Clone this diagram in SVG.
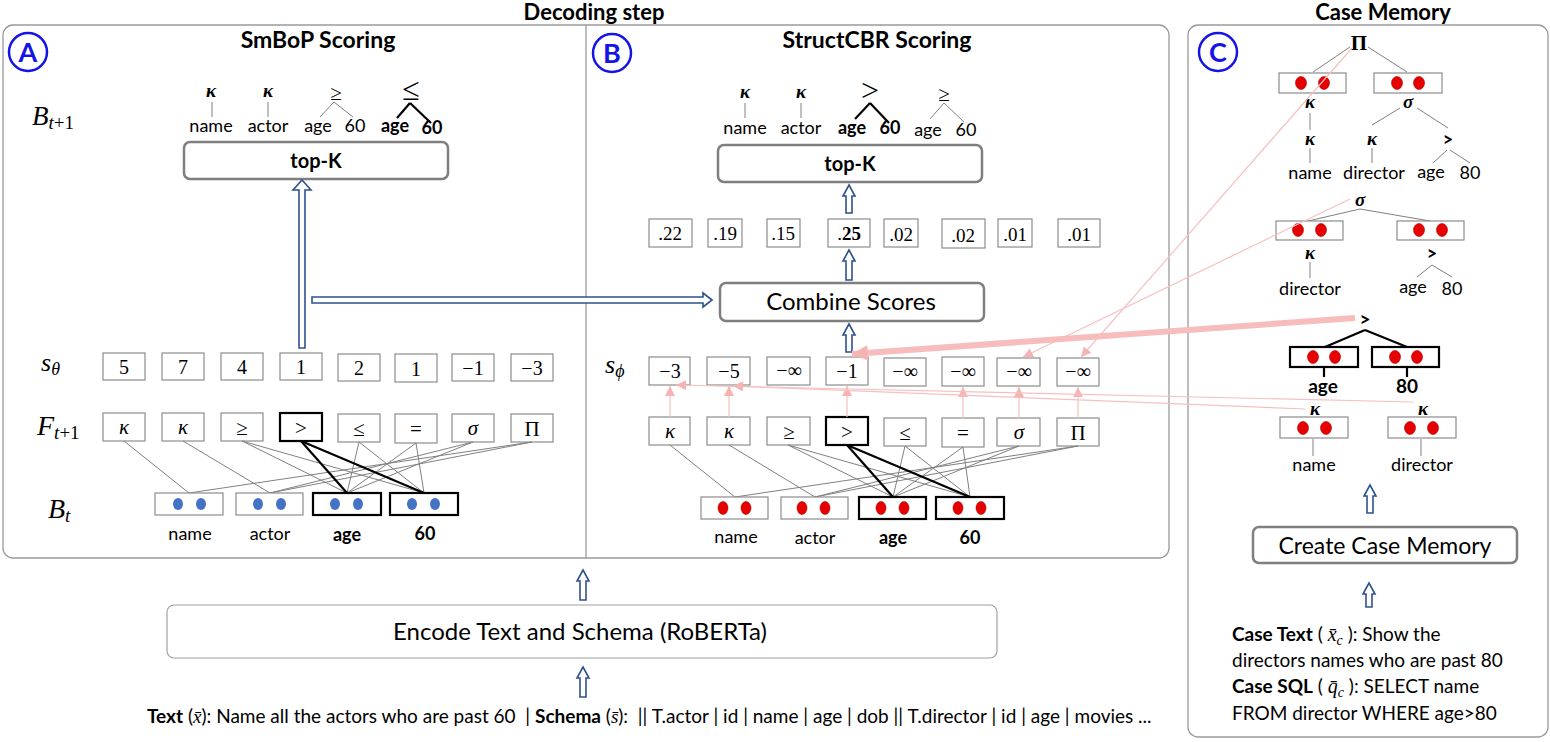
<svg xmlns="http://www.w3.org/2000/svg" width="1550" height="742" viewBox="0 0 1550 742">
<style>
.t{font-family:Lato,"Liberation Sans",sans-serif;fill:#000}
.b{font-weight:bold}
.m{font-family:"Liberation Serif","DejaVu Serif",serif;fill:#000}
.mi{font-family:"Liberation Serif","DejaVu Serif",serif;font-style:italic;fill:#000}
.mbi{font-family:"Liberation Serif","DejaVu Serif",serif;font-style:italic;font-weight:bold;fill:#000}
.panel{fill:none;stroke:#9a9a9a;stroke-width:1.3}
.gbox{fill:#fff;stroke:#8c8c8c;stroke-width:1.2}
.kbox{fill:#fff;stroke:#000;stroke-width:2.2}
.rbox{fill:#fff;stroke:#7f7f7f;stroke-width:2.5}
.ln{stroke:#808080;stroke-width:1;fill:none}
.tk{stroke:#000;stroke-width:2.2;fill:none}
.bd{fill:#4472c4}
.rd{fill:#e60000;stroke:#b00000;stroke-width:0.6}
.arr{fill:#fff;stroke:#2f528f;stroke-width:1.6;stroke-linejoin:miter}
.pk{stroke:#f6c0c0;stroke-width:1.2;fill:none}
.pkt{stroke:#f7bcbc;stroke-width:6;fill:none}
.circ{fill:#fff;stroke:#1414e6;stroke-width:2.5}
.cl{font-family:Lato,"Liberation Sans",sans-serif;font-weight:bold;fill:#1414e6;font-size:27px}
</style>
<defs>
<marker id="ph" markerUnits="userSpaceOnUse" markerWidth="12" markerHeight="12" refX="10" refY="5" orient="auto">
<path d="M0,0 L10,5 L0,10 Z" fill="#f5b3b3"/>
</marker>
<marker id="phb" markerUnits="userSpaceOnUse" markerWidth="20" markerHeight="20" refX="16" refY="8" orient="auto">
<path d="M0,0 L16,8 L0,16 Z" fill="#f5b3b3"/>
</marker>
</defs>
<rect width="1550" height="742" fill="#fff"/>

<!-- titles and panels -->
<g id="frame">
<text class="t b" x="594" y="20" font-size="22" text-anchor="middle">Decoding step</text>
<text class="t b" x="1383" y="20" font-size="22" text-anchor="middle">Case Memory</text>
<rect class="panel" x="3" y="25" width="1166" height="533" rx="10"/>
<line class="panel" x1="586" y1="25" x2="586" y2="558"/>
<rect class="panel" x="1188" y="25" width="360" height="712" rx="10"/>
</g>

<!-- Panel A -->
<g id="panelA">
<circle class="circ" cx="28" cy="52" r="19"/>
<text class="cl" x="28" y="62" text-anchor="middle">A</text>
<text class="t b" x="318" y="48" font-size="23" text-anchor="middle">SmBoP Scoring</text>
<text class="mi" x="32" y="125" font-size="27">B<tspan font-size="19" dy="4">t</tspan><tspan font-size="19" font-style="normal">+1</tspan></text>
</g>

<g id="A-Bt1">
<text class="mbi" x="211" y="97" font-size="19" text-anchor="middle">κ</text>
<text class="mbi" x="268" y="97" font-size="19" text-anchor="middle">κ</text>
<text class="m" x="336" y="100" font-size="21" text-anchor="middle">≥</text>
<text class="m" x="411" y="100" font-size="32" text-anchor="middle">≤</text>
<line class="ln" x1="212" y1="102" x2="212" y2="117"/>
<line class="ln" x1="268" y1="102" x2="268" y2="117"/>
<line class="ln" x1="334" y1="102" x2="320" y2="117"/>
<line class="ln" x1="334" y1="102" x2="353" y2="117"/>
<line class="tk" x1="410" y1="103" x2="397" y2="118"/>
<line class="tk" x1="410" y1="103" x2="431" y2="123"/>
<text class="t" x="211" y="132" font-size="18" text-anchor="middle">name</text>
<text class="t" x="268" y="132" font-size="18" text-anchor="middle">actor</text>
<text class="t" x="318" y="132" font-size="18" text-anchor="middle">age</text>
<text class="t" x="355" y="132" font-size="18" text-anchor="middle">60</text>
<text class="t b" x="395" y="132" font-size="18" text-anchor="middle">age</text>
<text class="t b" x="432" y="134" font-size="18" text-anchor="middle">60</text>
</g>

<g id="A-topk">
<rect class="rbox" x="184" y="142" width="264" height="37" rx="6"/>
<text class="t b" x="316" y="168" font-size="20" text-anchor="middle">top-K</text>
</g>

<g id="A-stheta">
<text class="mi" x="41" y="371" font-size="26">s<tspan font-size="18" dy="4">θ</tspan></text>
<rect class="gbox" x="103" y="353" width="42" height="27"/>
<rect class="gbox" x="162" y="353" width="42" height="27"/>
<rect class="gbox" x="221" y="353" width="42" height="27"/>
<rect class="gbox" x="280" y="353" width="42" height="27"/>
<rect class="gbox" x="338" y="354" width="42" height="27"/>
<rect class="gbox" x="395" y="354" width="42" height="28"/>
<rect class="gbox" x="452" y="354" width="42" height="27"/>
<rect class="gbox" x="511" y="354" width="42" height="27"/>
<g class="m" font-size="20" text-anchor="middle">
<text x="124" y="374">5</text><text x="183" y="374">7</text><text x="242" y="374">4</text><text x="301" y="374">1</text>
<text x="359" y="375">2</text><text x="416" y="376">1</text><text x="473" y="375">−1</text><text x="532" y="375">−3</text>
</g>
</g>

<g id="A-F">
<text class="mi" x="37" y="435" font-size="28">F<tspan font-size="19" dy="4">t</tspan><tspan font-size="19" font-style="normal">+1</tspan></text>
<rect class="gbox" x="103" y="413" width="42" height="28"/>
<rect class="gbox" x="162" y="413" width="42" height="28"/>
<rect class="gbox" x="221" y="413" width="42" height="28"/>
<rect class="kbox" x="280" y="413" width="42" height="28"/>
<rect class="gbox" x="338" y="414" width="42" height="28"/>
<rect class="gbox" x="395" y="414" width="42" height="29"/>
<rect class="gbox" x="452" y="414" width="42" height="28"/>
<rect class="gbox" x="511" y="414" width="42" height="28"/>
<g font-size="21" text-anchor="middle">
<text class="mi" x="124" y="434">κ</text><text class="mi" x="183" y="434">κ</text>
<text class="m" x="242" y="435">≥</text><text class="m" x="301" y="435">&gt;</text>
<text class="m" x="359" y="436">≤</text><text class="m" x="416" y="436">=</text>
<text class="mi" x="473" y="435">σ</text><text class="m" x="532" y="436">Π</text>
</g>
</g>

<g id="A-edges">
<line class="ln" x1="124" y1="441" x2="189" y2="493"/>
<line class="ln" x1="183" y1="441" x2="270" y2="493"/>
<line class="ln" x1="242" y1="441" x2="347" y2="493"/>
<line class="ln" x1="242" y1="441" x2="424" y2="493"/>
<line class="ln" x1="359" y1="442" x2="347" y2="493"/>
<line class="ln" x1="359" y1="442" x2="424" y2="493"/>
<line class="ln" x1="416" y1="443" x2="347" y2="493"/>
<line class="ln" x1="416" y1="443" x2="424" y2="493"/>
<line class="ln" x1="473" y1="442" x2="270" y2="493"/>
<line class="ln" x1="473" y1="442" x2="347" y2="493"/>
<line class="ln" x1="532" y1="442" x2="189" y2="493"/>
<line class="ln" x1="532" y1="442" x2="270" y2="493"/>
<line class="tk" x1="301" y1="441" x2="347" y2="493"/>
<line class="tk" x1="301" y1="441" x2="424" y2="493"/>
</g>

<g id="A-Bt">
<text class="mi" x="48" y="518" font-size="28">B<tspan font-size="19" dy="4">t</tspan></text>
<rect class="gbox" x="155" y="493" width="68" height="22"/>
<rect class="gbox" x="236" y="493" width="67" height="22"/>
<rect class="kbox" x="313" y="493" width="68" height="22"/>
<rect class="kbox" x="390" y="493" width="68" height="22"/>
<ellipse class="bd" cx="178" cy="504" rx="5" ry="6"/><ellipse class="bd" cx="201" cy="504" rx="5" ry="6"/>
<ellipse class="bd" cx="258" cy="504" rx="5" ry="6"/><ellipse class="bd" cx="281" cy="504" rx="5" ry="6"/>
<ellipse class="bd" cx="335" cy="504" rx="5" ry="6"/><ellipse class="bd" cx="358" cy="504" rx="5" ry="6"/>
<ellipse class="bd" cx="412" cy="504" rx="5" ry="6"/><ellipse class="bd" cx="435" cy="504" rx="5" ry="6"/>
<text class="t" x="190" y="540" font-size="18" text-anchor="middle">name</text>
<text class="t" x="270" y="540" font-size="18" text-anchor="middle">actor</text>
<text class="t b" x="347" y="541" font-size="18" text-anchor="middle">age</text>
<text class="t b" x="425" y="540" font-size="18" text-anchor="middle">60</text>
</g>

<!-- Panel B -->
<g id="panelB">
<circle class="circ" cx="612" cy="53" r="19"/>
<text class="cl" x="612" y="63" text-anchor="middle">B</text>
<text class="t b" x="877" y="48" font-size="23" text-anchor="middle">StructCBR Scoring</text>
</g>

<g id="B-Bt1">
<text class="mbi" x="745" y="98" font-size="19" text-anchor="middle">κ</text>
<text class="mbi" x="801" y="98" font-size="19" text-anchor="middle">κ</text>
<text class="m" x="870" y="101" font-size="32" text-anchor="middle">&gt;</text>
<text class="m" x="944" y="101" font-size="21" text-anchor="middle">≥</text>
<line class="ln" x1="745" y1="103" x2="745" y2="118"/>
<line class="ln" x1="801" y1="103" x2="801" y2="118"/>
<line class="tk" x1="870" y1="103" x2="855" y2="119"/>
<line class="tk" x1="870" y1="103" x2="889" y2="123"/>
<line class="ln" x1="944" y1="103" x2="930" y2="119"/>
<line class="ln" x1="944" y1="103" x2="964" y2="122"/>
<text class="t" x="745" y="134" font-size="18" text-anchor="middle">name</text>
<text class="t" x="801" y="134" font-size="18" text-anchor="middle">actor</text>
<text class="t b" x="852" y="134" font-size="18" text-anchor="middle">age</text>
<text class="t b" x="890" y="134" font-size="18" text-anchor="middle">60</text>
<text class="t" x="928" y="136" font-size="18" text-anchor="middle">age</text>
<text class="t" x="966" y="136" font-size="18" text-anchor="middle">60</text>
</g>

<g id="B-topk">
<rect class="rbox" x="718" y="145" width="264" height="37" rx="6"/>
<text class="t b" x="850" y="171" font-size="20" text-anchor="middle">top-K</text>
</g>

<g id="B-probs">
<rect class="gbox" x="649" y="219" width="43" height="28"/>
<rect class="gbox" x="708" y="219" width="34" height="28"/>
<rect class="gbox" x="767" y="219" width="33" height="28"/>
<rect class="gbox" x="828" y="219" width="42" height="28"/>
<rect class="gbox" x="884" y="219" width="34" height="28"/>
<rect class="gbox" x="942" y="219" width="43" height="29"/>
<rect class="gbox" x="998" y="219" width="34" height="28"/>
<rect class="gbox" x="1058" y="219" width="42" height="28"/>
<g class="m" font-size="19" text-anchor="middle">
<text x="670" y="240">.22</text><text x="725" y="240">.19</text><text x="783" y="240">.15</text>
<text x="849" y="240">.<tspan font-weight="bold">25</tspan></text>
<text x="901" y="241">.02</text><text x="963" y="242">.02</text><text x="1015" y="241">.01</text><text x="1079" y="241">.01</text>
</g>
</g>

<g id="B-combine">
<rect class="rbox" x="720" y="283" width="264" height="38" rx="6"/>
<text class="t" x="851" y="310" font-size="24" text-anchor="middle">Combine Scores</text>
</g>

<g id="B-sphi">
<text class="mi" x="605" y="373" font-size="26">s<tspan font-size="18" dy="4">ϕ</tspan></text>
<rect class="gbox" x="649" y="357" width="41" height="28"/>
<rect class="gbox" x="707" y="357" width="43" height="28"/>
<rect class="gbox" x="767" y="357" width="43" height="28"/>
<rect class="gbox" x="826" y="357" width="42" height="28"/>
<rect class="gbox" x="884" y="358" width="42" height="28"/>
<rect class="gbox" x="942" y="357" width="42" height="29"/>
<rect class="gbox" x="997" y="358" width="43" height="28"/>
<rect class="gbox" x="1057" y="358" width="42" height="28"/>
<g class="m" font-size="20" text-anchor="middle">
<text x="670" y="378">−3</text><text x="729" y="378">−5</text><text x="789" y="377">−∞</text><text x="847" y="378">−1</text>
<text x="905" y="378">−∞</text><text x="963" y="378">−∞</text><text x="1019" y="378">−∞</text><text x="1078" y="378">−∞</text>
</g>
</g>

<g id="B-F">
<rect class="gbox" x="649" y="417" width="41" height="28"/>
<rect class="gbox" x="707" y="417" width="43" height="28"/>
<rect class="gbox" x="767" y="417" width="43" height="28"/>
<rect class="kbox" x="826" y="417" width="42" height="28"/>
<rect class="gbox" x="884" y="418" width="42" height="28"/>
<rect class="gbox" x="942" y="418" width="42" height="29"/>
<rect class="gbox" x="997" y="418" width="43" height="28"/>
<rect class="gbox" x="1057" y="418" width="42" height="28"/>
<g font-size="21" text-anchor="middle">
<text class="mi" x="670" y="438">κ</text><text class="mi" x="729" y="438">κ</text>
<text class="m" x="789" y="439">≥</text><text class="m" x="847" y="439">&gt;</text>
<text class="m" x="905" y="440">≤</text><text class="m" x="963" y="440">=</text>
<text class="mi" x="1019" y="439">σ</text><text class="m" x="1078" y="440">Π</text>
</g>
</g>

<g id="B-edges">
<line class="ln" x1="670" y1="445" x2="735" y2="497"/>
<line class="ln" x1="729" y1="445" x2="815" y2="497"/>
<line class="ln" x1="788" y1="445" x2="893" y2="497"/>
<line class="ln" x1="788" y1="445" x2="970" y2="497"/>
<line class="ln" x1="905" y1="446" x2="893" y2="497"/>
<line class="ln" x1="905" y1="446" x2="970" y2="497"/>
<line class="ln" x1="963" y1="447" x2="893" y2="497"/>
<line class="ln" x1="963" y1="447" x2="970" y2="497"/>
<line class="ln" x1="1019" y1="446" x2="815" y2="497"/>
<line class="ln" x1="1019" y1="446" x2="893" y2="497"/>
<line class="ln" x1="1078" y1="446" x2="735" y2="497"/>
<line class="ln" x1="1078" y1="446" x2="815" y2="497"/>
<line class="tk" x1="847" y1="445" x2="893" y2="497"/>
<line class="tk" x1="847" y1="445" x2="970" y2="497"/>
</g>

<g id="B-Bt">
<rect class="gbox" x="701" y="497" width="67" height="22"/>
<rect class="gbox" x="781" y="497" width="67" height="22"/>
<rect class="kbox" x="859" y="497" width="67" height="22"/>
<rect class="kbox" x="936" y="497" width="68" height="22"/>
<ellipse class="rd" cx="723" cy="508" rx="5" ry="6.5"/><ellipse class="rd" cx="746" cy="508" rx="5" ry="6.5"/>
<ellipse class="rd" cx="802" cy="508" rx="5" ry="6.5"/><ellipse class="rd" cx="825" cy="508" rx="5" ry="6.5"/>
<ellipse class="rd" cx="881" cy="508" rx="5" ry="6.5"/><ellipse class="rd" cx="904" cy="508" rx="5" ry="6.5"/>
<ellipse class="rd" cx="958" cy="508" rx="5" ry="6.5"/><ellipse class="rd" cx="981" cy="508" rx="5" ry="6.5"/>
<text class="t" x="736" y="543" font-size="18" text-anchor="middle">name</text>
<text class="t" x="815" y="544" font-size="18" text-anchor="middle">actor</text>
<text class="t b" x="893" y="544" font-size="18" text-anchor="middle">age</text>
<text class="t b" x="970" y="544" font-size="18" text-anchor="middle">60</text>
</g>

<!-- Panel C -->
<g id="panelC">
<circle class="circ" cx="1218" cy="52" r="19"/>
<text class="cl" x="1218" y="62" text-anchor="middle">C</text>
</g>

<g id="C-tree1">
<text class="m b" x="1359" y="50" font-size="21" text-anchor="middle">Π</text>
<line class="ln" x1="1350" y1="47" x2="1313" y2="72"/>
<line class="ln" x1="1368" y1="47" x2="1407" y2="72"/>
<rect class="gbox" x="1279" y="73" width="67" height="20"/>
<rect class="gbox" x="1374" y="73" width="68" height="20"/>
<ellipse class="rd" cx="1301" cy="83" rx="5.5" ry="6.5"/><ellipse class="rd" cx="1324" cy="83" rx="5.5" ry="6.5"/>
<ellipse class="rd" cx="1397" cy="83" rx="5.5" ry="6.5"/><ellipse class="rd" cx="1419" cy="83" rx="5.5" ry="6.5"/>
<text class="mbi" x="1310" y="108" font-size="19" text-anchor="middle">κ</text>
<text class="mbi" x="1408" y="108" font-size="19" text-anchor="middle">σ</text>
<line class="ln" x1="1310" y1="113" x2="1310" y2="130"/>
<text class="mbi" x="1310" y="145" font-size="19" text-anchor="middle">κ</text>
<line class="ln" x1="1310" y1="148" x2="1310" y2="163"/>
<line class="ln" x1="1400" y1="108" x2="1372" y2="125"/>
<line class="ln" x1="1417" y1="108" x2="1448" y2="128"/>
<text class="mbi" x="1372" y="145" font-size="19" text-anchor="middle">κ</text>
<line class="ln" x1="1372" y1="148" x2="1372" y2="163"/>
<text class="t b" x="1448" y="146" font-size="18" text-anchor="middle">&gt;</text>
<line class="ln" x1="1447" y1="150" x2="1433" y2="163"/>
<line class="ln" x1="1450" y1="150" x2="1470" y2="163"/>
<text class="t" x="1310" y="179" font-size="18" text-anchor="middle">name</text>
<text class="t" x="1374" y="179" font-size="18" text-anchor="middle">director</text>
<text class="t" x="1431" y="178" font-size="18" text-anchor="middle">age</text>
<text class="t" x="1470" y="179" font-size="18" text-anchor="middle">80</text>
</g>

<g id="C-tree2">
<text class="mbi" x="1360" y="206" font-size="19" text-anchor="middle">σ</text>
<line class="ln" x1="1360" y1="209" x2="1308" y2="221"/>
<line class="ln" x1="1360" y1="209" x2="1430" y2="221"/>
<rect class="gbox" x="1276" y="221" width="67" height="19"/>
<rect class="gbox" x="1397" y="221" width="67" height="19"/>
<ellipse class="rd" cx="1298" cy="230" rx="5.5" ry="6.5"/><ellipse class="rd" cx="1321" cy="230" rx="5.5" ry="6.5"/>
<ellipse class="rd" cx="1419" cy="230" rx="5.5" ry="6.5"/><ellipse class="rd" cx="1442" cy="230" rx="5.5" ry="6.5"/>
<text class="mbi" x="1310" y="259" font-size="19" text-anchor="middle">κ</text>
<line class="ln" x1="1310" y1="262" x2="1310" y2="278"/>
<text class="t" x="1310" y="295" font-size="18" text-anchor="middle">director</text>
<text class="t b" x="1432" y="260" font-size="18" text-anchor="middle">&gt;</text>
<line class="ln" x1="1432" y1="265" x2="1417" y2="277"/>
<line class="ln" x1="1432" y1="265" x2="1452" y2="277"/>
<text class="t" x="1413" y="293" font-size="18" text-anchor="middle">age</text>
<text class="t" x="1452" y="295" font-size="18" text-anchor="middle">80</text>
</g>

<g id="C-tree3">
<text class="t b" x="1365" y="326" font-size="19" text-anchor="middle">&gt;</text>
<line class="tk" x1="1365" y1="330" x2="1325" y2="347"/>
<line class="tk" x1="1365" y1="330" x2="1407" y2="347"/>
<rect class="kbox" x="1290" y="347" width="68" height="20"/>
<rect class="kbox" x="1372" y="347" width="67" height="20"/>
<ellipse class="rd" cx="1313" cy="357" rx="5.5" ry="6.5"/><ellipse class="rd" cx="1335" cy="357" rx="5.5" ry="6.5"/>
<ellipse class="rd" cx="1395" cy="357" rx="5.5" ry="6.5"/><ellipse class="rd" cx="1417" cy="357" rx="5.5" ry="6.5"/>
<line class="tk" x1="1324" y1="367" x2="1324" y2="377" stroke-width="1.6"/>
<line class="tk" x1="1407" y1="367" x2="1407" y2="377" stroke-width="1.6"/>
<text class="t b" x="1323" y="393" font-size="19" text-anchor="middle">age</text>
<text class="t b" x="1407" y="393" font-size="19" text-anchor="middle">80</text>
</g>

<g id="C-leaves">
<text class="mbi" x="1315" y="415" font-size="19" text-anchor="middle">κ</text>
<text class="mbi" x="1423" y="415" font-size="19" text-anchor="middle">κ</text>
<rect class="gbox" x="1280" y="417" width="68" height="21"/>
<rect class="gbox" x="1388" y="417" width="68" height="21"/>
<ellipse class="rd" cx="1303" cy="428" rx="5.5" ry="6.5"/><ellipse class="rd" cx="1326" cy="428" rx="5.5" ry="6.5"/>
<ellipse class="rd" cx="1410" cy="428" rx="5.5" ry="6.5"/><ellipse class="rd" cx="1433" cy="428" rx="5.5" ry="6.5"/>
<line class="ln" x1="1313" y1="439" x2="1313" y2="456"/>
<line class="ln" x1="1421" y1="439" x2="1421" y2="456"/>
<text class="t" x="1314" y="471" font-size="18" text-anchor="middle">name</text>
<text class="t" x="1422" y="471" font-size="18" text-anchor="middle">director</text>
</g>

<g id="C-create">
<rect class="rbox" x="1253" y="527" width="264" height="36" rx="6"/>
<text class="t" x="1385" y="554" font-size="23" text-anchor="middle">Create Case Memory</text>
</g>

<g id="C-casetext" class="t" font-size="19">
<text x="1232" y="641"><tspan class="b">Case Text</tspan> ( <tspan class="mi" font-size="20">x̄</tspan><tspan class="mi" font-size="14" dy="4">c</tspan><tspan dy="-4"> ): Show the</tspan></text>
<text x="1232" y="667">directors names who are past 80</text>
<text x="1232" y="693"><tspan class="b">Case SQL</tspan> ( <tspan class="mi" font-size="20">q̄</tspan><tspan class="mi" font-size="14" dy="4">c</tspan><tspan dy="-4"> ): SELECT name</tspan></text>
<text x="1232" y="720">FROM director WHERE age&gt;80</text>
</g>

<!-- Bottom -->
<g id="encoder">
<rect x="167" y="605" width="830" height="53" rx="7" fill="#fff" stroke="#a0a0a0" stroke-width="1.2"/>
<text class="t" x="580" y="640" font-size="24" text-anchor="middle">Encode Text and Schema (RoBERTa)</text>
</g>
<g id="input-text" class="t" font-size="19">
<text x="147" y="723"><tspan class="b">Text</tspan> (<tspan class="mi">x̄</tspan>): Name all the actors who are past 60&#160; | <tspan class="b">Schema</tspan> (<tspan class="mi">s̄</tspan>):&#160; || T.actor | id | name | age | dob || T.director | id | age | movies ...</text>
</g>

<!-- connectors -->
<g id="connectors">
<path class="arr" d="M302,180 L311,190 L305,190 L305,348 L299,348 L299,190 L293,190 Z"/>
<path class="arr" d="M712,300 L703,293 L703,297 L312,297 L312,303 L703,303 L703,307 Z"/>
<path class="arr" d="M849,185 L855,196 L852,196 L852,213 L846,213 L846,196 L843,196 Z"/>
<path class="arr" d="M849,250 L855,261 L852,261 L852,280 L846,280 L846,261 L843,261 Z"/>
<path class="arr" d="M849,324 L855,335 L852,335 L852,352 L846,352 L846,335 L843,335 Z"/>
<path class="arr" d="M583,570 L589,581 L586,581 L586,600 L580,600 L580,581 L577,581 Z"/>
<path class="arr" d="M583,667 L589,678 L586,678 L586,697 L580,697 L580,678 L577,678 Z"/>
<path class="arr" d="M1370,485 L1376,496 L1373,496 L1373,513 L1367,513 L1367,496 L1364,496 Z"/>
<path class="arr" d="M1369,583 L1375,594 L1372,594 L1372,607 L1366,607 L1366,594 L1363,594 Z"/>
<line class="pk" x1="670" y1="417" x2="670" y2="386" marker-end="url(#ph)"/>
<line class="pk" x1="729" y1="417" x2="729" y2="386" marker-end="url(#ph)"/>
<line class="pk" x1="847" y1="417" x2="847" y2="386" marker-end="url(#ph)"/>
<line class="pk" x1="963" y1="418" x2="963" y2="387" marker-end="url(#ph)"/>
<line class="pk" x1="1019" y1="418" x2="1019" y2="387" marker-end="url(#ph)"/>
<line class="pk" x1="1078" y1="418" x2="1078" y2="387" marker-end="url(#ph)"/>
<line class="pk" x1="1352" y1="48" x2="1081" y2="357" marker-end="url(#ph)"/>
<line class="pk" x1="1350" y1="199" x2="1023" y2="357" marker-end="url(#ph)"/>
<line class="pk" x1="1413" y1="402" x2="676" y2="385" marker-end="url(#ph)"/>
<line class="pk" x1="1305" y1="409" x2="733" y2="386" marker-end="url(#ph)"/>
<line class="pkt" x1="1355" y1="318" x2="852" y2="354" marker-end="url(#phb)"/>
</g>
</svg>
